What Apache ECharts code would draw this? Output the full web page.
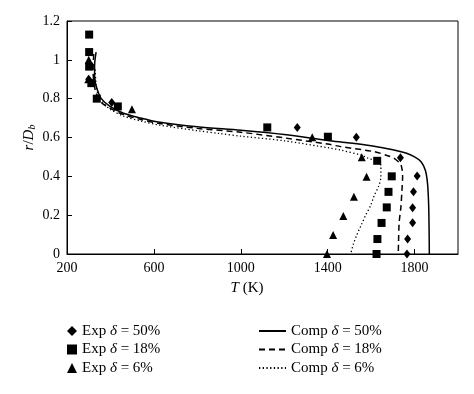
<!DOCTYPE html>
<html>
<head>
<meta charset="utf-8">
<script src="https://cdn.jsdelivr.net/npm/echarts@6/dist/echarts.min.js"></script>
<style>html,body{margin:0;padding:0;background:#fff}#c{width:474px;height:394px}</style>
</head>
<body>
<div id="c"></div>
<script>
// Experimental data [T (K), r/Db]
const exp50 = [[300,0.90],[406,0.78],[1260,0.652],[1532,0.601],[1735,0.496],[1812,0.402],[1795,0.321],[1791,0.238],[1791,0.161],[1768,0.077],[1765,0]];
const exp18 = [[302,1.13],[302,1.04],[302,0.965],[312,0.88],[337,0.80],[434,0.76],[1122,0.652],[1401,0.604],[1628,0.48],[1695,0.40],[1680,0.32],[1672,0.24],[1648,0.16],[1629,0.077],[1625,0]];
const exp6 = [[300,1.0],[298,0.90],[499,0.745],[1329,0.601],[1557,0.498],[1579,0.398],[1521,0.295],[1472,0.196],[1425,0.098],[1397,0]];
// Computed curves
const comp50 = [[334,1.04],[327,0.97],[327,0.92],[331,0.88],[340,0.845],[358,0.80],[398,0.76],[460,0.725],[540,0.70],[620,0.68],[800,0.655],[1000,0.637],[1200,0.615],[1400,0.585],[1500,0.572],[1600,0.557],[1700,0.537],[1760,0.52],[1800,0.50],[1830,0.475],[1850,0.43],[1860,0.36],[1865,0.25],[1867,0.12],[1868,0]];
const comp18 = [[323,1.03],[320,0.95],[324,0.88],[334,0.83],[358,0.78],[400,0.75],[460,0.718],[540,0.693],[620,0.673],[800,0.647],[1000,0.627],[1200,0.598],[1400,0.566],[1460,0.553],[1614,0.527],[1680,0.505],[1706,0.493],[1730,0.47],[1740,0.45],[1745,0.40],[1742,0.33],[1737,0.24],[1729,0.16],[1726,0.05],[1725,0]];
const comp6 = [[330,0.95],[334,0.87],[344,0.82],[370,0.775],[400,0.745],[460,0.71],[540,0.685],[620,0.665],[800,0.635],[906,0.62],[1000,0.607],[1200,0.583],[1414,0.545],[1460,0.535],[1552,0.51],[1583,0.495],[1629,0.475],[1645,0.455],[1645,0.40],[1635,0.35],[1614,0.30],[1598,0.25],[1575,0.20],[1555,0.15],[1535,0.10],[1518,0.05],[1506,0]];
const xTicks = [200,600,1000,1400,1800];
const names = ['Exp δ = 50%','Exp δ = 18%','Exp δ = 6%','Comp δ = 50%','Comp δ = 18%','Comp δ = 6%'];

const FF = '"Liberation Serif","DejaVu Serif",serif';
const chart = echarts.init(document.getElementById('c'));
const legText = {fontFamily:FF,fontSize:15,color:'#000',lineHeight:16,
  rich:{i:{fontFamily:FF,fontSize:15,fontStyle:'italic',color:'#000'}}};
const fmt = n => n.replace('δ','{i|δ}');
chart.setOption({
  animation:false,
  backgroundColor:'#fff',
  grid:{left:67,right:16,top:21,bottom:140,show:true,borderColor:'#000',borderWidth:1},
  xAxis:{type:'value',min:200,max:2000,interval:400,
    name:'{i|T} (K)',nameLocation:'middle',nameGap:27,
    nameTextStyle:{fontFamily:FF,fontSize:15,color:'#000',padding:[0,31,0,0],
      rich:{i:{fontFamily:FF,fontSize:15,fontStyle:'italic',color:'#000'}}},
    axisLine:{lineStyle:{color:'#000',width:1}},
    axisTick:{inside:true,length:5,customValues:xTicks,lineStyle:{color:'#000'}},
    axisLabel:{customValues:xTicks,fontFamily:FF,fontSize:14,color:'#000',margin:7,formatter:v=>String(v)},
    splitLine:{show:false}},
  yAxis:{type:'value',min:0,max:1.2,interval:0.2,
    name:'{i|r}/{i|D}{s|b}',nameLocation:'middle',nameGap:30,nameMoveOverlap:false,
    nameTextStyle:{fontFamily:FF,fontSize:15,color:'#000',
      rich:{i:{fontFamily:FF,fontSize:15,fontStyle:'italic',color:'#000'},
            s:{fontFamily:FF,fontSize:10,fontStyle:'italic',color:'#000',verticalAlign:'bottom',padding:[6,0,0,0]}}},
    axisLine:{lineStyle:{color:'#000',width:1}},
    axisTick:{inside:true,length:5,lineStyle:{color:'#000'}},
    axisLabel:{fontFamily:FF,fontSize:14,color:'#000',margin:7,formatter:v=>String(+v.toFixed(1))},
    splitLine:{show:false}},
  legend:[
    {orient:'vertical',left:62,top:318,itemWidth:10,itemHeight:10,itemGap:2.5,
     data:[{name:names[0],icon:'diamond'},{name:names[1],icon:'rect'},{name:names[2],icon:'triangle'}],
     formatter:fmt,textStyle:legText,selectedMode:false},
    {orient:'vertical',left:253,top:318,itemWidth:27,itemHeight:10,itemGap:2.5,
     itemStyle:{opacity:0},
     data:[names[3],names[4],names[5]],
     formatter:fmt,textStyle:legText,selectedMode:false}
  ],
  series:[
    {name:names[3],type:'line',data:comp50,symbol:'none',smooth:0.3,lineStyle:{color:'#000',width:1.5,type:'solid'},itemStyle:{color:'#000'},z:2},
    {name:names[4],type:'line',data:comp18,symbol:'none',smooth:0.3,lineStyle:{color:'#000',width:1.5,type:[6,4]},itemStyle:{color:'#000'},z:2},
    {name:names[5],type:'line',data:comp6,symbol:'none',smooth:0.3,lineStyle:{color:'#000',width:1.3,type:[1.3,2.4]},itemStyle:{color:'#000'},z:2},
    {name:names[0],type:'scatter',data:exp50,symbol:'diamond',symbolSize:[7,9],itemStyle:{color:'#000',opacity:1},z:3},
    {name:names[1],type:'scatter',data:exp18,symbol:'rect',symbolSize:8,itemStyle:{color:'#000',opacity:1},z:3},
    {name:names[2],type:'scatter',data:exp6,symbol:'triangle',symbolSize:[8,8],itemStyle:{color:'#000',opacity:1},z:3}
  ]
});
</script>
</body>
</html>
